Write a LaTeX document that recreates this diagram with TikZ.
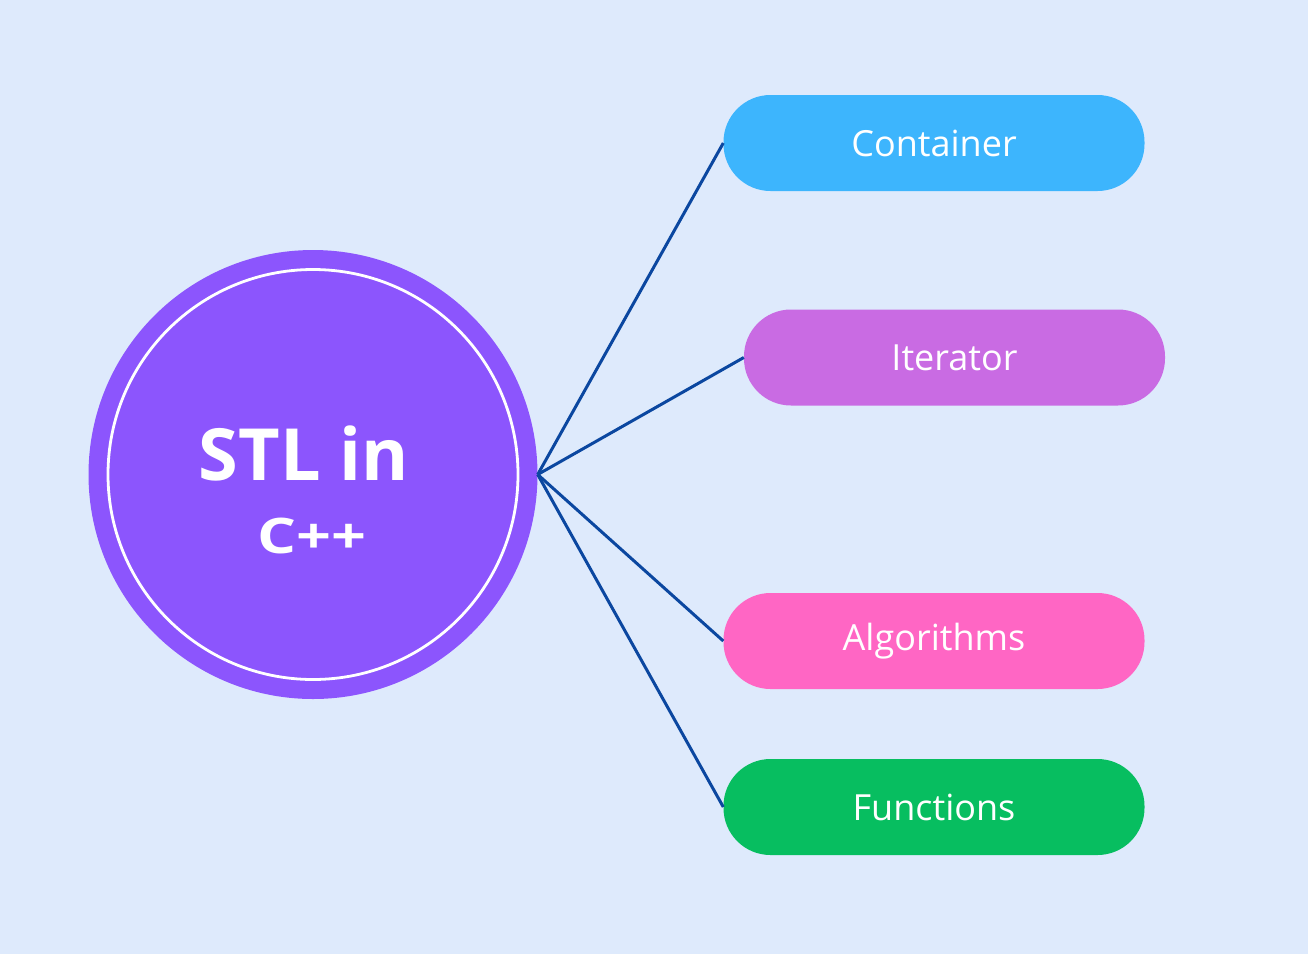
\documentclass[tikz,border=0pt]{standalone}
\usepackage{fontspec}
\setmainfont{Open Sans}
\definecolor{bgc}{HTML}{DEEAFC}
\definecolor{purp}{HTML}{8C55FD}
\definecolor{cblue}{HTML}{3DB5FD}
\definecolor{cviolet}{HTML}{C96BE3}
\definecolor{cpink}{HTML}{FF66C4}
\definecolor{cgreen}{HTML}{07BE60}
\definecolor{linec}{HTML}{0B47A0}
\tikzset{
  pill/.style={rectangle, rounded corners=47pt, minimum width=421pt, minimum height=96pt,
    inner sep=0pt, text=white, font=\fontsize{36}{40}\selectfont},
  conn/.style={draw=linec, line width=3pt},
}
\begin{document}
\begin{tikzpicture}[x=1pt,y=-1pt]
\fill[bgc] (0,0) rectangle (1308,954);
\useasboundingbox (0,0) rectangle (1308,954);
\node[circle, fill=purp, minimum size=449pt, inner sep=0pt] (stl) at (313,474.5) {};
\node[circle, draw=white, line width=2.8pt, minimum size=410pt, inner sep=0pt] (ring) at (313,474.5) {};
\node[anchor=base, text=white, font=\bfseries\fontsize{72}{80}\selectfont, inner sep=0pt] (stltext) at (304,480) {STL in};
\node[anchor=base, text=white, font=\bfseries\fontsize{49}{56}\selectfont\addfontfeatures{FakeStretch=1.25}, inner sep=0pt] (cpptext) at (312,553) {C++};
\node[pill, fill=cblue] (container) at (934,143) {Container};
\node[pill, fill=cviolet] (iterator) at (954.5,357.5) {Iterator};
\node[pill, fill=cpink] (algorithms) at (934,641) {Algorithms};
\node[pill, fill=cgreen] (functions) at (934,807) {Functions};
\draw[conn] (stl.east) -- (container.west);
\draw[conn] (stl.east) -- (iterator.west);
\draw[conn] (stl.east) -- (algorithms.west);
\draw[conn] (stl.east) -- (functions.west);
\end{tikzpicture}
\end{document}
